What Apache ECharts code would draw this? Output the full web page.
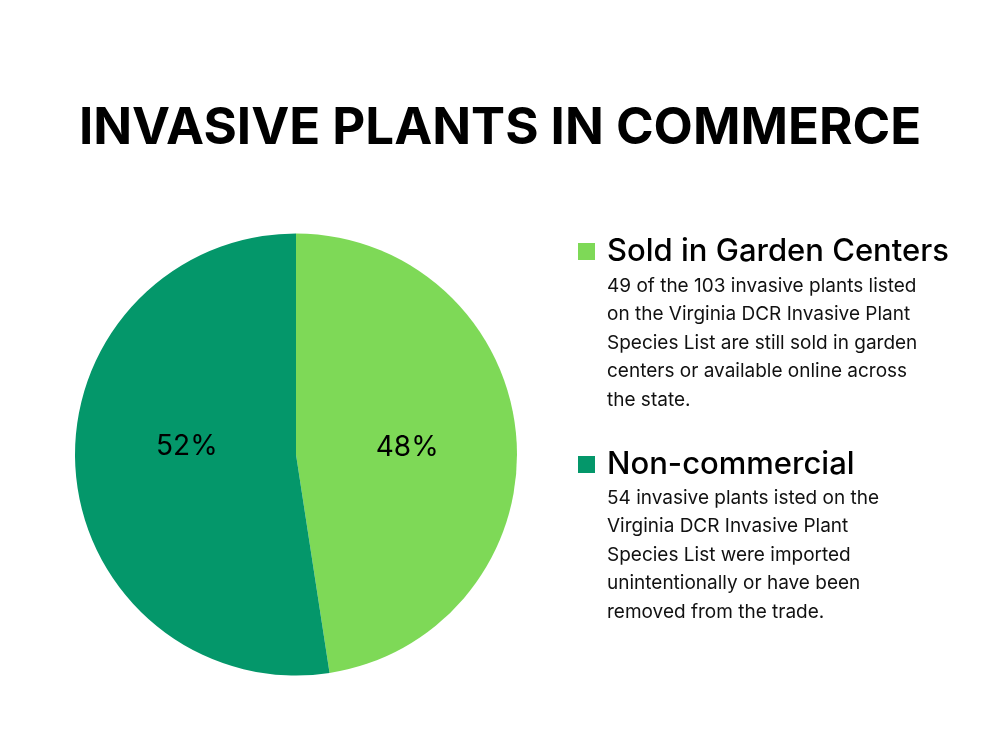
<!DOCTYPE html>
<html>
<head>
<meta charset="utf-8">
<script src="https://cdn.jsdelivr.net/npm/echarts@6/dist/echarts.min.js"></script>
<style>
html,body{margin:0;padding:0;background:#fff;}
#chart{width:1000px;height:750px;}
</style>
</head>
<body>
<div id="chart"></div>
<script>
const chartTitle = 'INVASIVE PLANTS IN COMMERCE';
const categories = ['Sold in Garden Centers', 'Non-commercial'];
const values = [49, 54];
const colors = ['#7ED957', '#04976A'];
const descriptions = [
  ['49 of the 103 invasive plants listed', 'on the Virginia DCR Invasive Plant', 'Species List are still sold in garden', 'centers or available online across', 'the state.'],
  ['54 invasive plants isted on the', 'Virginia DCR Invasive Plant', 'Species List were imported', 'unintentionally or have been', 'removed from the trade.']
];

const FONT = 'Inter, "Noto Sans", sans-serif';
const chart = echarts.init(document.getElementById('chart'));

const legendTops = [231, 444];
const descTops = [267, 479];

const option = {
  backgroundColor: '#ffffff',
  color: colors,
  title: [
    {
      text: chartTitle,
      left: 'center',
      top: 98,
      textStyle: { fontFamily: FONT, fontWeight: 700, fontSize: 51, color: '#000' }
    },
    ...descriptions.map((lines, i) => ({
      text: lines.join('\n'),
      left: 602,
      top: descTops[i],
      textStyle: { fontFamily: FONT, fontWeight: 400, fontSize: 19, lineHeight: 28.5, color: '#111' }
    }))
  ],
  legend: categories.map((c, i) => ({
    data: [c],
    left: 573,
    top: legendTops[i],
    icon: 'rect',
    itemWidth: 17,
    itemHeight: 17,
    selectedMode: false,
    textStyle: { fontFamily: FONT, fontWeight: 500, fontSize: 31, color: '#000', padding: [0, 0, 0, 7] }
  })),
  series: [{
    type: 'pie',
    center: [296, 454.5],
    radius: 221,
    startAngle: 90,
    clockwise: true,
    avoidLabelOverlap: false,
    silent: true,
    label: {
      show: true,
      position: 'inside',
      formatter: p => Math.round(p.percent) + '%',
      fontFamily: FONT,
      fontSize: 28,
      color: '#000'
    },
    labelLine: { show: false },
    itemStyle: { borderWidth: 0 },
    data: categories.map((c, i) => ({
      name: c,
      value: values[i],
      label: i === 1 ? { offset: [4, -17] } : { offset: [-2, 2] }
    }))
  }]
};
chart.setOption(option);
</script>
</body>
</html>
